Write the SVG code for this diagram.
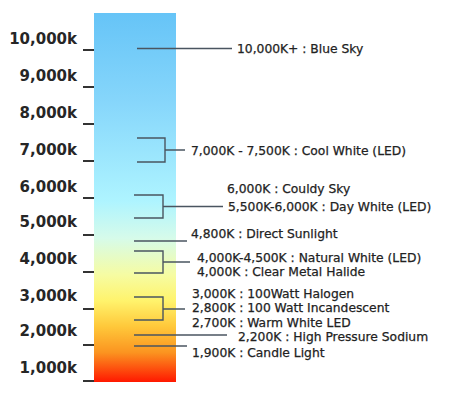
<svg xmlns="http://www.w3.org/2000/svg" width="450" height="396" viewBox="0 0 450 396">
<style>
.ax{font-family:"DejaVu Sans",sans-serif;font-weight:bold;font-size:15px;fill:#262626;text-anchor:end}
.lb{font-family:"DejaVu Sans",sans-serif;font-size:12.3px;fill:#222;stroke:#222;stroke-width:0.25}
.tk{stroke:#333;stroke-width:2;fill:none}
.cn{stroke:#4a5560;stroke-width:1.4;fill:none}
</style>
<defs>
<linearGradient id="temp" x1="0" y1="0" x2="0" y2="1">
<stop offset="0" stop-color="#66c4f7"/>
<stop offset="0.24" stop-color="#86d6fb"/>
<stop offset="0.51" stop-color="#aef4ff"/>
<stop offset="0.61" stop-color="#d6fbea"/>
<stop offset="0.71" stop-color="#f6fca2"/>
<stop offset="0.78" stop-color="#fff36c"/>
<stop offset="0.85" stop-color="#ffc83a"/>
<stop offset="0.92" stop-color="#fb9420"/>
<stop offset="1" stop-color="#ff1800"/>
</linearGradient>
</defs>
<rect x="0" y="0" width="450" height="396" fill="#fff"/>
<g id="bar"><rect x="94" y="13" width="82" height="369" fill="url(#temp)"/></g>
<g id="axis">
<path class="tk" d="M83 50H94M83 87H94M83 124H94M83 161H94M83 198H94M83 235H94M83 272H94M83 309H94M83 345H94M83 381H94"/>
<text class="ax" x="77" y="44">10,000k</text>
<text class="ax" x="77" y="81">9,000k</text>
<text class="ax" x="77" y="118">8,000k</text>
<text class="ax" x="77" y="155">7,000k</text>
<text class="ax" x="77" y="192">6,000k</text>
<text class="ax" x="77" y="227">5,000k</text>
<text class="ax" x="77" y="264">4,000k</text>
<text class="ax" x="77" y="301">3,000k</text>
<text class="ax" x="77" y="336">2,000k</text>
<text class="ax" x="77" y="373">1,000k</text>
</g>
<g id="connectors">
<path class="cn" d="M137 48.5H232"/>
<path class="cn" d="M137 138H165V162H137M165 150H185"/>
<path class="cn" d="M134 195H163V218H134M163 206.5H223"/>
<path class="cn" d="M134 241H187"/>
<path class="cn" d="M134 251H163V273H134M163 262H190"/>
<path class="cn" d="M134 297H163V320H134M163 309H185"/>
<path class="cn" d="M134 335H227"/>
<path class="cn" d="M134 346H187"/>
</g>
<g id="blue-sky"><text class="lb" x="237" y="53">10,000K+ : Blue Sky</text></g>
<g id="cool-white"><text class="lb" x="191" y="155">7,000K - 7,500K : Cool White (LED)</text></g>
<g id="cloudy-sky"><text class="lb" x="227" y="193">6,000K : Couldy Sky</text></g>
<g id="day-white"><text class="lb" x="228" y="211">5,500K-6,000K : Day White (LED)</text></g>
<g id="direct-sunlight"><text class="lb" x="191" y="238">4,800K : Direct Sunlight</text></g>
<g id="natural-white"><text class="lb" x="197" y="262">4,000K-4,500K : Natural White (LED)</text></g>
<g id="metal-halide"><text class="lb" x="197" y="276">4,000K : Clear Metal Halide</text></g>
<g id="halogen"><text class="lb" x="192" y="298">3,000K : 100Watt Halogen</text></g>
<g id="incandescent"><text class="lb" x="192" y="312">2,800K : 100 Watt Incandescent</text></g>
<g id="warm-white"><text class="lb" x="192" y="327">2,700K : Warm White LED</text></g>
<g id="sodium"><text class="lb" x="238" y="341">2,200K : High Pressure Sodium</text></g>
<g id="candle"><text class="lb" x="192" y="357">1,900K : Candle Light</text></g>
</svg>
